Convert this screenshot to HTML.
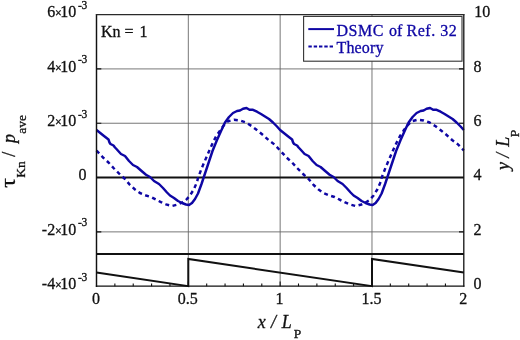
<!DOCTYPE html>
<html><head><meta charset="utf-8"><title>Figure</title>
<style>
html,body{margin:0;padding:0;background:#fff;}
body{width:520px;height:340px;overflow:hidden;}
svg{display:block;filter:blur(0.35px);}
.t{font-family:"Liberation Serif","Times New Roman",serif;font-size:16px;fill:#111;stroke:#111;stroke-width:0.3px;}
.ti{font-family:"Liberation Serif","Times New Roman",serif;font-size:18px;fill:#111;stroke:#111;stroke-width:0.3px;}
</style></head><body>
<svg width="520" height="340" viewBox="0 0 520 340">
<rect width="520" height="340" fill="#fff"/>
<g stroke="#686868" stroke-width="0.9" fill="none"><line x1="188.32" y1="14.6" x2="188.32" y2="286.2"/><line x1="280.15" y1="14.6" x2="280.15" y2="286.2"/><line x1="371.98" y1="14.6" x2="371.98" y2="286.2"/><line x1="96.5" y1="68.92" x2="463.8" y2="68.92"/><line x1="96.5" y1="123.24" x2="463.8" y2="123.24"/><line x1="96.5" y1="231.88" x2="463.8" y2="231.88"/></g>
<line x1="96.5" y1="177.56" x2="463.8" y2="177.56" stroke="#111" stroke-width="1.9"/>
<path d="M114.87,286.2 v-2.6 M133.23,286.2 v-2.6 M151.59,286.2 v-2.6 M169.96,286.2 v-2.6 M188.32,286.2 v-2.6 M206.69,286.2 v-2.6 M225.06,286.2 v-2.6 M243.42,286.2 v-2.6 M261.79,286.2 v-2.6 M280.15,286.2 v-2.6 M298.51,286.2 v-2.6 M316.88,286.2 v-2.6 M335.25,286.2 v-2.6 M353.61,286.2 v-2.6 M371.98,286.2 v-2.6 M390.34,286.2 v-2.6 M408.71,286.2 v-2.6 M427.07,286.2 v-2.6 M445.44,286.2 v-2.6 M188.32,286.2 v-4.8 M280.15,286.2 v-4.8 M371.98,286.2 v-4.8 M96.5,68.92 h4.8 M463.8,68.92 h-4.8 M96.5,123.24 h4.8 M463.8,123.24 h-4.8 M96.5,177.56 h4.8 M463.8,177.56 h-4.8 M96.5,231.88 h4.8 M463.8,231.88 h-4.8" stroke="#111" stroke-width="1.1" fill="none"/>
<path d="M96.5,130.0 L104.0,136.0 L108.5,139.5 L109.5,142.5 L110.5,144.0 L113.5,145.5 L115.0,147.5 L116.0,148.5 L121.0,154.0 L125.0,156.0 L129.0,161.0 L133.0,165.0 L137.0,167.0 L141.0,170.5 L146.0,174.7 L150.0,177.0 L154.0,181.0 L159.0,184.0 L163.0,188.0 L167.0,192.5 L170.0,195.5 L174.0,198.0 L178.0,201.0 L182.0,203.0 L186.0,204.5 L189.0,205.0 L192.0,203.0 L195.0,199.0 L198.0,193.5 L201.5,184.0 L203.5,178.0 L212.5,151.0 L217.0,140.0 L221.5,130.0 L225.0,122.5 L229.0,117.0 L233.0,113.0 L237.0,111.0 L240.0,110.5 L243.0,108.8 L246.5,108.0 L249.5,109.8 L253.0,109.8 L257.0,111.7 L261.0,114.0 L265.0,116.5 L269.0,119.0 L273.0,122.5 L277.0,126.5 L280.1,130.0 L287.6,136.0 L292.1,139.5 L293.1,142.5 L294.1,144.0 L297.1,145.5 L298.6,147.5 L299.6,148.5 L304.6,154.0 L308.6,156.0 L312.6,161.0 L316.6,165.0 L320.6,167.0 L324.6,170.5 L329.6,174.7 L333.6,177.0 L337.6,181.0 L342.6,184.0 L346.6,188.0 L350.6,192.5 L353.6,195.5 L357.6,198.0 L361.6,201.0 L365.6,203.0 L369.6,204.5 L372.6,205.0 L375.6,203.0 L378.6,199.0 L381.6,193.5 L385.1,184.0 L387.1,178.0 L396.1,151.0 L400.6,140.0 L405.1,130.0 L408.6,122.5 L412.6,117.0 L416.6,113.0 L420.6,111.0 L423.6,110.5 L426.6,108.8 L430.1,108.0 L433.1,109.8 L436.6,109.8 L440.6,111.7 L444.6,114.0 L448.6,116.5 L452.6,119.0 L456.6,122.5 L460.6,126.5 L463.8,130.0" stroke="#0e06a4" stroke-width="2.45" fill="none" stroke-linejoin="round"/>
<path d="M96.5,150.5 L103.0,157.5 L108.5,162.5 L114.0,168.5 L119.5,174.0 L125.0,179.0 L130.0,185.0 L135.0,189.5 L140.0,193.0 L146.0,195.5 L151.0,197.0 L156.0,199.6 L161.0,202.2 L166.0,204.4 L172.0,206.0 L178.0,204.5 L182.0,202.5 L186.0,200.0 L190.0,195.5 L194.0,189.0 L197.0,182.0 L198.0,178.0 L202.0,167.5 L209.6,150.0 L213.2,142.0 L216.3,136.0 L220.0,130.6 L223.3,126.0 L228.0,121.3 L234.0,119.8 L240.0,120.5 L246.0,122.5 L252.0,126.3 L257.5,130.5 L263.0,135.0 L268.5,140.0 L274.5,144.5 L280.1,150.5 L286.6,157.5 L292.1,162.5 L297.6,168.5 L303.1,174.0 L308.6,179.0 L313.6,185.0 L318.6,189.5 L323.6,193.0 L329.6,195.5 L334.6,197.0 L339.6,199.6 L344.6,202.2 L349.6,204.4 L355.6,206.0 L361.6,204.5 L365.6,202.5 L369.6,200.0 L373.6,195.5 L377.6,189.0 L380.6,182.0 L381.6,178.0 L385.6,167.5 L393.2,150.0 L396.9,142.0 L400.0,136.0 L403.6,130.6 L407.0,126.0 L411.6,121.3 L417.6,119.8 L423.6,120.5 L429.6,122.5 L435.6,126.3 L441.1,130.5 L446.6,135.0 L452.1,140.0 L458.1,144.5 L463.8,150.5" stroke="#0e06a4" stroke-width="2.45" fill="none" stroke-dasharray="3.9 3.5" stroke-linejoin="round"/>
<line x1="96.5" y1="254.00" x2="463.8" y2="254.00" stroke="#111" stroke-width="2"/>
<path d="M96.5,272.6 L188.3,286.2 L188.3,259.0 L372.0,286.2 L372.0,259.0 L463.8,272.6" stroke="#111" stroke-width="2" fill="none" stroke-linejoin="miter"/>
<path d="M96.5,14.6 V286.2" stroke="#111" stroke-width="1.45" fill="none" stroke-linecap="square"/>
<path d="M463.8,14.6 V286.2" stroke="#111" stroke-width="1.3" fill="none" stroke-linecap="square"/>
<path d="M96.5,14.6 H463.8" stroke="#2a2a2a" stroke-width="1.1" fill="none" stroke-linecap="square"/>
<path d="M96.5,286.2 H463.8" stroke="#111" stroke-width="1.25" fill="none" stroke-linecap="square"/>
<rect x="303.6" y="16.4" width="158.4" height="44.8" fill="#fff" stroke="#333" stroke-width="1.1"/>
<line x1="308.3" y1="29.1" x2="334" y2="29.1" stroke="#0e06a4" stroke-width="2"/>
<line x1="308.4" y1="46.4" x2="333" y2="46.4" stroke="#0e06a4" stroke-width="2" stroke-dasharray="3.4 1.9"/>
<text x="336.5" y="35.6" class="t" style="fill:#0e06a4;stroke:#0e06a4;letter-spacing:0.5px">DSMC <tspan x="389" style="letter-spacing:0">of </tspan><tspan x="406.6">Ref. </tspan><tspan x="440.3">32</tspan></text>
<text x="336.5" y="53" class="t" style="fill:#0e06a4;stroke:#0e06a4;letter-spacing:0.15px">Theory</text>
<text x="101" y="37.4" class="t">Kn = <tspan dx="2">1</tspan></text>
<text x="55.2" y="17.4" text-anchor="end" class="t">6</text><text x="58.4" y="17.4" text-anchor="middle" class="t" style="font-size:12px;font-weight:bold;stroke-width:0.2px">×</text><text x="76.2" y="17.4" text-anchor="end" class="t">10</text><text x="78" y="9.0" class="t" style="font-size:11.5px;letter-spacing:-0.4px">-3</text>
<text x="55.2" y="71.7" text-anchor="end" class="t">4</text><text x="58.4" y="71.7" text-anchor="middle" class="t" style="font-size:12px;font-weight:bold;stroke-width:0.2px">×</text><text x="76.2" y="71.7" text-anchor="end" class="t">10</text><text x="78" y="63.3" class="t" style="font-size:11.5px;letter-spacing:-0.4px">-3</text>
<text x="55.2" y="126.0" text-anchor="end" class="t">2</text><text x="58.4" y="126.0" text-anchor="middle" class="t" style="font-size:12px;font-weight:bold;stroke-width:0.2px">×</text><text x="76.2" y="126.0" text-anchor="end" class="t">10</text><text x="78" y="117.6" class="t" style="font-size:11.5px;letter-spacing:-0.4px">-3</text>
<text x="86.6" y="180.4" text-anchor="end" class="t">0</text>
<text x="55.2" y="234.7" text-anchor="end" class="t">-2</text><text x="58.4" y="234.7" text-anchor="middle" class="t" style="font-size:12px;font-weight:bold;stroke-width:0.2px">×</text><text x="76.2" y="234.7" text-anchor="end" class="t">10</text><text x="78" y="226.3" class="t" style="font-size:11.5px;letter-spacing:-0.4px">-3</text>
<text x="55.2" y="289.0" text-anchor="end" class="t">-4</text><text x="58.4" y="289.0" text-anchor="middle" class="t" style="font-size:12px;font-weight:bold;stroke-width:0.2px">×</text><text x="76.2" y="289.0" text-anchor="end" class="t">10</text><text x="78" y="280.6" class="t" style="font-size:11.5px;letter-spacing:-0.4px">-3</text>
<text x="473.4" y="289.0" class="t">0</text>
<text x="473.4" y="234.7" class="t">2</text>
<text x="473.4" y="180.4" class="t">4</text>
<text x="473.4" y="126.0" class="t">6</text>
<text x="473.4" y="71.7" class="t">8</text>
<text x="474.3" y="17.4" class="t">10</text>
<text x="96.0" y="303.6" text-anchor="middle" class="t">0</text>
<text x="187.8" y="303.6" text-anchor="middle" class="t">0.5</text>
<text x="279.6" y="303.6" text-anchor="middle" class="t">1</text>
<text x="371.5" y="303.6" text-anchor="middle" class="t">1.5</text>
<text x="463.3" y="303.6" text-anchor="middle" class="t">2</text>
<text x="257.8" y="328.4" class="ti" font-style="italic">x</text><text x="271" y="328.4" class="ti" font-style="italic">/</text><text x="281.7" y="328.4" class="ti" font-style="italic">L</text><text x="293.7" y="337.8" class="ti" style="font-size:13.5px">P</text>
<g transform="translate(14.6,187.3) rotate(-90)"><text x="-0.5" y="0" class="ti" style="font-size:21px" transform="scale(1.15,1)">τ</text><text x="9.6" y="10.2" class="ti" style="font-size:13.5px">Kn</text><text x="30.5" y="0" class="ti">/</text><text x="44.3" y="0" class="ti" font-style="italic">p</text><text x="53.6" y="11.2" class="ti" style="font-size:13.5px">ave</text></g>
<g transform="translate(508.7,171.5) rotate(-90)"><text x="1.6" y="0" class="ti" font-style="italic">y</text><text x="13.7" y="0" class="ti" font-style="italic">/</text><text x="24.7" y="0" class="ti" font-style="italic">L</text><text x="34.3" y="9.9" class="ti" style="font-size:13.5px">P</text></g>
</svg>
</body></html>
